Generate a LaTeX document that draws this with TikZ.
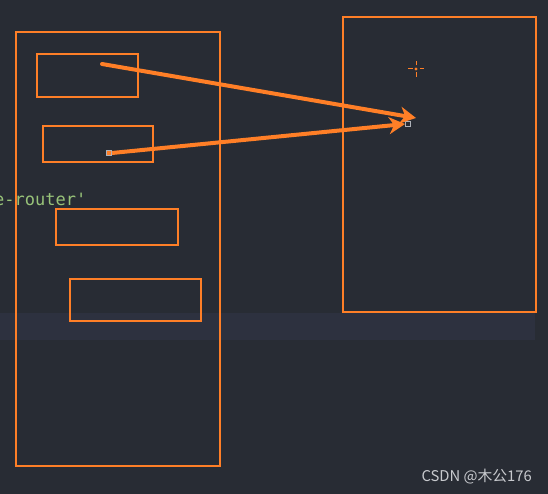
\documentclass[tikz,border=0pt]{standalone}
\usepackage{fontspec}
\usepackage{tikz}
\usetikzlibrary{positioning,arrows.meta}

\newfontfamily\codefont{DejaVu Sans Mono}
\newfontfamily\cjkfont{Noto Sans CJK SC}

\definecolor{editorbg}{RGB}{40,44,52}
\definecolor{lineband}{RGB}{45,49,63}
\definecolor{paintorange}{RGB}{255,127,39}
\definecolor{codegreen}{RGB}{152,195,121}
\definecolor{handlegray}{RGB}{175,178,185}
\definecolor{markgray}{RGB}{200,202,206}

\begin{document}
\begin{tikzpicture}[x=1pt,y=-1pt,
	  frame/.style = {draw=paintorange, line width=1.6pt, anchor=north west,
	    inner sep=0pt, outer sep=0pt},
	  drag/.style = {draw=paintorange, line width=4pt,
	    -{Stealth[length=16pt,width=17pt,inset=5pt]}},
	  handle/.style = {draw=handlegray, line width=0.9pt, minimum size=5pt,
	    inner sep=0pt}]
	  % editor background
	  \useasboundingbox (0,0) rectangle (548,494);
	  \fill[editorbg] (0,0) rectangle (548,494);
	  \fill[lineband] (0,313) rectangle (535,340);
	  \node[anchor=base west, inner sep=0pt, text=codegreen, font=\codefont\fontsize{17}{20}\selectfont]
	    (code) at (-6,206) {e-router'};
	  % page and its blocks
	  \node[frame, minimum width=204pt, minimum height=434pt] (page) at (16,32) {};
	  \node[frame, minimum width=101pt, minimum height=43pt] (blockA) at (37,54) {};
	  \node[frame, minimum width=110pt, minimum height=36pt] (blockB) at (43,126) {};
	  \node[frame, minimum width=122pt, minimum height=36pt] (blockC) at (56,209) {};
	  \node[frame, minimum width=131pt, minimum height=42pt] (blockD) at (70,279) {};
	  % target view
	  \node[frame, minimum width=193pt, minimum height=295pt] (view) at (343,17) {};
	  % cursor
	  \coordinate (cursor) at (416,69);
	  \fill[paintorange] (cursor) circle (1.6pt);
	  \draw[paintorange, line width=1pt]
	    ([xshift=-8pt]cursor) -- ([xshift=-3.5pt]cursor)
	    ([xshift=3.5pt]cursor) -- ([xshift=8pt]cursor)
	    ([yshift=-8pt]cursor) -- ([yshift=-3.5pt]cursor)
	    ([yshift=3.5pt]cursor) -- ([yshift=8pt]cursor);
	  % drag handles and arrows
	  \coordinate (startA) at (102,64);
	  \coordinate (tipA) at (416,118);
	  \node[handle, fill=paintorange] (startB) at (109,153) {};
	  \node[handle, fill=editorbg] (dropB) at (408,124) {};
	  \draw[drag, line cap=round] (startA) -- (tipA);
	  \draw[drag] (startB.east) -- (dropB.west);
	  % watermark
	  \node[anchor=base east, inner sep=0pt, text=markgray, font=\cjkfont\fontsize{14.8}{17}\selectfont]
	    (mark) at (532,481) {CSDN @木公176};
	\end{tikzpicture}
\end{document}
